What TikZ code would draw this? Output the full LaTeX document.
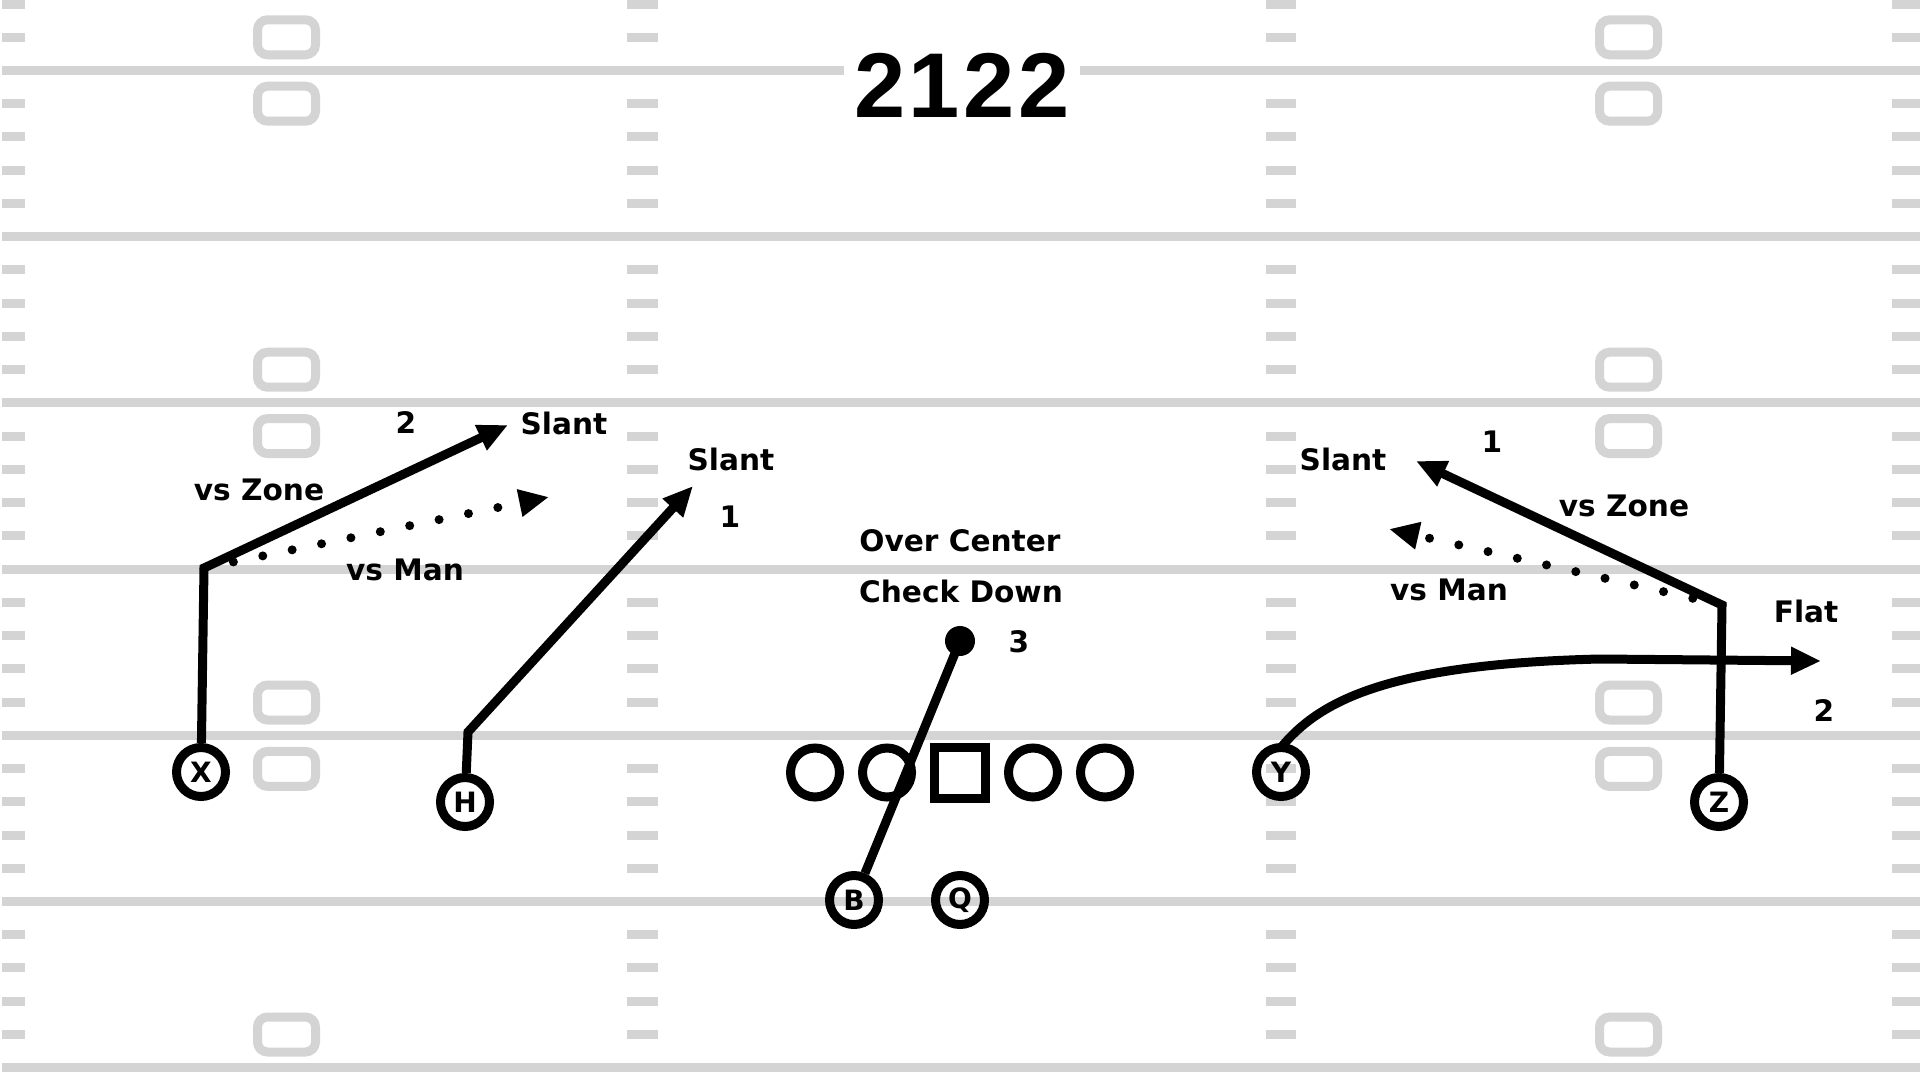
\documentclass[tikz,border=0pt]{standalone}
\usepackage{fontspec}
\setmainfont{DejaVu Sans}
\newfontfamily\titlefont{Liberation Sans}[LetterSpace=4]
\usetikzlibrary{arrows.meta}
\definecolor{fieldgray}{RGB}{212,212,212}
\begin{document}
\begin{tikzpicture}[x=0.5pt,y=-0.5pt,
  fieldline/.style={draw=fieldgray, line width=4.5pt},
  hashmark/.style={draw=fieldgray, line width=4.5pt},
  numbox/.style={draw=fieldgray, line width=4.5pt, rounded corners=5pt},
  player/.style={circle, draw=black, line width=4.5pt, minimum size=24.5pt, inner sep=0pt, font=\bfseries\fontsize{14}{15}\selectfont},
  lineman/.style={circle, draw=black, line width=4.5pt, minimum size=24.5pt, inner sep=0pt},
  centerman/.style={rectangle, draw=black, line width=4.5pt, minimum size=25.5pt, inner sep=0pt},
  ballspot/.style={circle, fill=black, minimum size=15pt, inner sep=0pt},
  route/.style={draw=black, line width=4.5pt},
  routearrow/.style={route, -{Triangle[length=15pt,width=13pt]}},
  manroute/.style={draw=black, line width=4.5pt, line cap=round, dash pattern=on 0pt off 15pt, -{Triangle[length=15pt,width=13pt]}},
  lbl/.style={font=\bfseries\fontsize{14.8}{18}\selectfont, inner sep=0pt},
]
\useasboundingbox (0,0) rectangle (1920,1080);
\fill[white] (0,0) rectangle (1920,1080);
% yard lines
\foreach \k in {0,...,6} {
  \draw[fieldline] (2,{70.5+166.2*\k}) -- (1920,{70.5+166.2*\k});
}
% hash marks
\foreach \j in {-2,...,29} {
  \pgfmathtruncatemacro\m{mod(\j+10,5)}
  \ifnum\m=0\relax\else
    \pgfmathsetmacro\hy{70.5+33.24*\j}
    \draw[hashmark] (2,\hy) -- (25,\hy);
    \draw[hashmark] (627,\hy) -- (658,\hy);
    \draw[hashmark] (1266,\hy) -- (1296,\hy);
    \draw[hashmark] (1892,\hy) -- (1920,\hy);
  \fi
}
% number boxes
\foreach \cy in {37.3,103.7,369.7,436.1,702.5,768.9,1034.5} {
  \draw[numbox] (257.5,\cy-17.5) rectangle (315.5,\cy+17.5);
  \draw[numbox] (1599.5,\cy-17.5) rectangle (1657.5,\cy+17.5);
}
% title
\node[fill=white, inner xsep=5pt, inner ysep=2pt, font=\titlefont\bfseries\fontsize{46}{50}\selectfont] (title) at (962,85) {2122};
% players
\node[player] (X) at (201,772) {X};
\node[player] (H) at (465,802) {H};
\node[player] (Y) at (1281,772) {Y};
\node[player] (Z) at (1719,802) {Z};
\node[player] (B) at (854,900) {B};
\node[player] (Q) at (960,900) {Q};
\node[lineman] (LT) at (815,772.5) {};
\node[lineman] (LG) at (887,772.5) {};
\node[centerman] (C) at (960,772.5) {};
\node[lineman] (RG) at (1033,772.5) {};
\node[lineman] (RT) at (1105,772.5) {};
\node[ballspot] (dot) at (960,641) {};
% route points
\coordinate (Xb) at (204,568);
\coordinate (Xt) at (508,425);
\coordinate (Xm) at (549,497);
\coordinate (Hb) at (468,732);
\coordinate (Ht) at (693,486);
\coordinate (Zb) at (1722,605);
\coordinate (Zt) at (1416,461);
\coordinate (Zm) at (1389,529);
\coordinate (Yf) at (1600,659);
\coordinate (Yt) at (1821,661);
% routes
\draw[manroute] (Xb) -- (Xm);
\draw[routearrow] (X) -- (Xb) -- (Xt);
\draw[routearrow] (H) -- (Hb) -- (Ht);
\draw[manroute] (Zb) -- (Zm);
\draw[routearrow] (Z) -- (Zb) -- (Zt);
\draw[routearrow] ([yshift=-2.25pt]Y.north) .. controls (1320,700) and (1390,664) .. (Yf) -- (Yt);
\draw[route] (B) -- (dot.center);
% labels
\node[lbl] (n2X) at (406,423) {2};
\node[lbl] (slantX) at (564,423) {Slant};
\node[lbl] (zoneX) at (259,490) {vs Zone};
\node[lbl] (manX) at (405,570) {vs Man};
\node[lbl] (slantH) at (731,459) {Slant};
\node[lbl] (n1H) at (730,517) {1};
\node[lbl] (over) at (960,541) {Over Center};
\node[lbl] (check) at (961,591) {Check Down};
\node[lbl] (n3) at (1019,642) {3};
\node[lbl] (slantZ) at (1343,459) {Slant};
\node[lbl] (n1Z) at (1492,442) {1};
\node[lbl] (zoneZ) at (1624,506) {vs Zone};
\node[lbl] (manZ) at (1449,590) {vs Man};
\node[lbl] (flat) at (1806,611) {Flat};
\node[lbl] (n2Z) at (1824,711) {2};
\end{tikzpicture}
\end{document}
